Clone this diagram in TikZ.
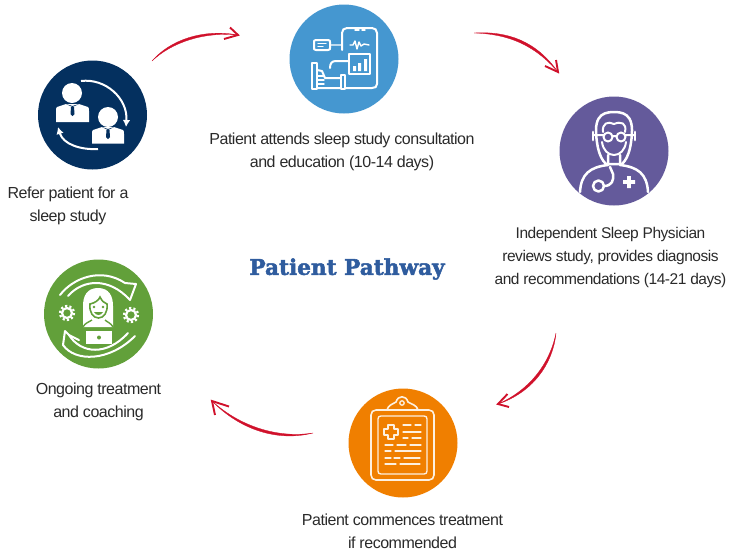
\documentclass[tikz,border=0pt]{standalone}
\usepackage{fontspec}
\setmainfont{Liberation Sans}[LetterSpace=-3]
\newfontfamily\titlefont{DejaVu Serif Bold}[FakeBold=2.2]
\usetikzlibrary{arrows.meta}
\definecolor{navyc}{HTML}{04305F}
\definecolor{bluec}{HTML}{4597D0}
\definecolor{purplec}{HTML}{645A9B}
\definecolor{greenc}{HTML}{62A03A}
\definecolor{orangec}{HTML}{F07F00}
\definecolor{redc}{HTML}{D0112B}
\definecolor{titlec}{HTML}{2F5C9E}
\definecolor{textc}{HTML}{2A2A2A}
\tikzset{
 disc/.style={circle,minimum size=109pt,inner sep=0pt,fill=#1},
 captext/.style={text=textc,font=\fontsize{16}{23}\selectfont,align=center,inner sep=0pt},
 redbody/.style={fill=redc,draw=redc,line width=.3pt,line join=round},
 redhead/.style={draw=redc,line width=1.9pt,line join=miter},
 ico/.style={draw=white,line width=2pt,fill=none,line cap=round,line join=round},
 orangeline/.style={draw=white!88!orangec,line width=1.3pt,line cap=round,line join=round}
}
\begin{document}
\begin{tikzpicture}[x=1pt,y=-1pt]
\useasboundingbox (0,0) rectangle (735,555);
\node[disc=navyc] (refer) at (92.5,115) {};
\node[disc=bluec] (consult) at (344,59) {};
\node[disc=purplec] (physician) at (614,151) {};
\node[disc=orangec] (treat) at (403,443) {};
\node[disc=greenc] (ongoing) at (98.5,314) {};

\node[captext] (t1) at (68,206) {Refer patient for a\\sleep study};
\node[captext] (t2) at (342,152) {Patient attends sleep study consultation\\and education (10-14 days)};
\node[captext,font=\fontsize{15.5}{23}\selectfont] (t3) at (610.5,257) {Independent Sleep Physician\\reviews study, provides diagnosis\\and recommendations (14-21 days)};
\node[captext] (t4) at (98.5,402) {Ongoing treatment\\and coaching};
\node[captext] (t5) at (402.5,531) {Patient commences treatment\\if recommended};
\node[text=titlec,font=\titlefont\fontsize{21.6}{24}\selectfont,inner sep=0pt] (title) at (347,269) {Patient Pathway};

% connectors
\coordinate (a1s) at (152,61); \coordinate (a1e) at (238,35);
\coordinate (a2s) at (474,33); \coordinate (a2e) at (558,72);
\coordinate (a3s) at (556,333); \coordinate (a3e) at (498,404);
\coordinate (a4s) at (313,433); \coordinate (a4e) at (212,401);
\fill[redbody] (a1s) .. controls (170,40) and (203,28.5) .. (a1e) .. controls (203,31.5) and (171,43) .. (a1s);
\draw[redhead] (230,27.5) -- (a1e) -- (224,39);
\fill[redbody] (a2s) .. controls (508,31) and (536,41) .. (a2e) .. controls (534,44.5) and (508,34) .. (a2s);
\draw[redhead] (545,66) -- (a2e) -- (556,60);
\fill[redbody] (a3s) .. controls (553,365) and (531.5,393) .. (a3e) .. controls (528.5,390.5) and (549.5,365) .. (a3s);
\draw[redhead] (507.5,394) -- (a3e) -- (509,407);
\fill[redbody] (a4s) .. controls (278,442) and (240,430) .. (a4e) .. controls (240,426.5) and (278,438.5) .. (a4s);
\draw[redhead] (229,406.5) -- (a4e) -- (215,415);

% refer icon
\begin{scope}[shift={(20,60)}]
 \fill[white] (52,33) circle (10);
 \fill[white] (46,44) -- (37,47) .. controls (36,48) and (36,49) .. (36,51) -- (36,62) -- (69,62) -- (69,51) .. controls (69,49) and (69,48) .. (68,47) -- (59,44) -- cycle;
 \fill[white] (88,57) circle (10);
 \fill[white] (82,67) -- (73,70) .. controls (72,71) and (72,72) .. (72,74) -- (72,83.5) -- (104,83.5) -- (104,74) .. controls (104,72) and (104,71) .. (103,70) -- (94,67) -- cycle;
 \fill[navyc] (46,44) -- (52.5,47) -- (59,44) -- (52.5,46) -- cycle (51,47) -- (54,47) -- (54.5,54) -- (52.5,56) -- (50.5,54) -- cycle;
 \fill[navyc] (82,67) -- (88,70) -- (94,67) -- (88,69) -- cycle (86.5,70) -- (89.5,70) -- (90,77) -- (88,79) -- (86,77) -- cycle;
 \draw[white,line width=2pt,-{Latex[length=7pt,width=7.5pt]}] (61,21) .. controls (85,18) and (108,38) .. (106,67);
 \draw[white,line width=2pt,-{Latex[length=7pt,width=7.5pt]}] (78,89) .. controls (60,90) and (43,84) .. (38,67);
\end{scope}

% consult icon
\begin{scope}[shift={(280,0)}]
 \draw[ico] (62,50) -- (62,33) .. controls (62,30) and (64,28) .. (67,28) -- (92,28) .. controls (95,28) and (97,30) .. (97,33) -- (97,84) .. controls (97,87) and (95,88) .. (92,88) -- (65,88);
 \draw[ico,line width=1.4pt] (75,30) -- (79,30) (82,30) -- (85,30);
 \draw[ico] (36,40) -- (48,40) .. controls (50,40) and (50,41) .. (50,42) -- (50,48) .. controls (50,49) and (50,50) .. (48,50) -- (36,50) .. controls (34,50) and (34,49) .. (34,48) -- (34,42) .. controls (34,41) and (34,40) .. (36,40) -- cycle;
 \draw[ico,line width=1.3pt] (38,43.5) -- (46,43.5) (38,46.5) -- (43,46.5);
 \draw[ico,line width=1.4pt] (50,45) -- (62,45) (70,45) -- (73,45) -- (75,41) -- (77,49) -- (79,42) -- (81,46) -- (84,44) -- (89,45);
 \draw[ico] (69,54) rectangle (90,74);
 \fill[white] (73,66) rectangle (76,71) (78,63) rectangle (81,71) (84,59) rectangle (87,71);
 \draw[ico] (50,68) .. controls (50,63) and (52,61) .. (56,61) -- (68,61);
 \draw[ico] (32,63) rectangle (36.5,89);
 \draw[ico] (61,75) rectangle (65,89);
 \draw[ico] (37,70) -- (42,71) -- (45,78) -- (61,78) (37,88) -- (61,88);
 \draw[ico,line width=1.4pt] (37,76) -- (44,76) (37,80) -- (44,80) (37,84) -- (44,84);
\end{scope}

% physician icon
\begin{scope}[shift={(550,90)}]
 \draw[ico,line width=2.5pt] (48,58) .. controls (42,28) and (50,22) .. (64,22) .. controls (78,22) and (86,28) .. (80,58) .. controls (78,66) and (76,70) .. (72,74) -- (56,74) .. controls (52,70) and (50,66) .. (48,58) -- cycle;
 \draw[ico] (53,42) .. controls (52,33) and (58,31) .. (64,34) .. controls (71,31) and (77,33) .. (75,42);
 \draw[ico] (52,52) .. controls (53,60) and (58,65) .. (64,65) .. controls (70,65) and (75,60) .. (76,52);
 \draw[ico,line width=2.8pt] (43,42) -- (43,50) (85,42) -- (85,50);
 \draw[ico] (58,47) circle (4.5) (71,47) circle (4.5) (62.5,46) -- (66.5,46) (43,45) -- (53.5,45) (75.5,45) -- (85,45);
 \draw[ico,line width=2.5pt] (58,65) -- (58,75) .. controls (40,77) and (31,84) .. (30,102);
 \draw[ico,line width=2.5pt] (70,65) -- (70,75) .. controls (88,77) and (97,84) .. (98,102);
 \draw[ico,line width=2.5pt] (48.5,96) circle (5.5);
 \draw[ico,line width=2.5pt] (54,96) .. controls (62,96) and (64,90) .. (63,84) -- (60,77);
 \fill[white] (77.2,86) rectangle (80.8,98) (73,90.2) rectangle (85,93.8);
\end{scope}

% ongoing icon
\begin{scope}[shift={(35,250)}]
 \draw[ico] (25,45) .. controls (38,28) and (66,17) .. (90,33) -- (101,34) -- (95,50);
 \draw[ico] (33,46) .. controls (48,29) and (74,27) .. (95,50);
 \draw[ico] (28,95) .. controls (40,112) and (74,112) .. (100,86);
 \draw[ico] (34,85) .. controls (46,104) and (72,106) .. (93,83);
 \draw[ico] (28,95) -- (30,81) -- (34,85) -- (44,90);
 \fill[white] (63,38) .. controls (52,38) and (48,46) .. (48,56) -- (48,77) -- (78,77) -- (78,56) .. controls (78,46) and (74,38) .. (63,38) -- cycle;
 \draw[greenc,line width=1.6pt,fill=white] (55,54) .. controls (60,53) and (64,50) .. (65,47) .. controls (67,51) and (69,53) .. (72,54) .. controls (73,62) and (69,68) .. (63.5,68) .. controls (58,68) and (54,62) .. (55,54) -- cycle;
 \fill[greenc] (59,57) circle (1.4) (68,57) circle (1.4);
 \fill[greenc] (59,62) .. controls (61,66) and (66,66) .. (68,62) -- cycle;
 \draw[greenc,line width=1.4pt] (48,77) .. controls (50,73) and (54,72) .. (57,70) (78,77) .. controls (76,73) and (72,72) .. (70,70);
 \fill[white] (51,81) rectangle (77,94);
 \fill[greenc] (64,87.5) circle (2);
 \draw[white,line width=2.2pt] (32,63) circle (5) (96,65) circle (5);
 \draw[white,line width=2.2pt,dash pattern=on 2.2pt off 2.2pt] (32,63) circle (7) (96,65) circle (7);
\end{scope}

% treatment icon
\begin{scope}[shift={(340,380)}]
 \draw[orangeline,line width=1.6pt] (47,30) -- (36,30) .. controls (33,30) and (31,32) .. (31,35) -- (31,95) .. controls (31,98) and (33,100) .. (36,100) -- (89,100) .. controls (92,100) and (94,98) .. (94,95) -- (94,35) .. controls (94,32) and (92,30) .. (89,30) -- (78,30);
 \draw[orangeline,line width=1.6pt] (47,30) .. controls (48,25) and (53,24) .. (56,22) .. controls (58,15) and (66,15) .. (68,22) .. controls (71,24) and (77,25) .. (78,30) -- cycle;
 \draw[orangeline] (62,23) circle (2.2);
 \draw[orangeline] (41,36) -- (84,36) .. controls (86,36) and (87,37) .. (87,39) -- (87,91) .. controls (87,93) and (86,94) .. (84,94) -- (41,94) .. controls (39,94) and (38,93) .. (38,91) -- (38,39) .. controls (38,37) and (39,36) .. (41,36) -- cycle;
 \draw[orangeline] (48,45) -- (54,45) -- (54,49) -- (58,49) -- (58,55) -- (54,55) -- (54,59) -- (48,59) -- (48,55) -- (44,55) -- (44,49) -- (48,49) -- cycle;
 \draw[orangeline] (63,45) -- (71,45) (75,45) -- (81,45) (63,52) -- (81,52) (63,58) -- (68,58) (72,58) -- (81,58);
 \draw[orangeline] (45,65) -- (53,65) (57,65) -- (66,65) (70,65) -- (81,65);
 \draw[orangeline] (45,71) -- (51,71) (55,71) -- (81,71);
 \draw[orangeline] (45,78) -- (51,78) (54,78) -- (60,78) (64,78) -- (80,78);
 \draw[orangeline] (45,84) -- (56,84) (60,84) -- (80,84);
\end{scope}
\end{tikzpicture}
\end{document}
